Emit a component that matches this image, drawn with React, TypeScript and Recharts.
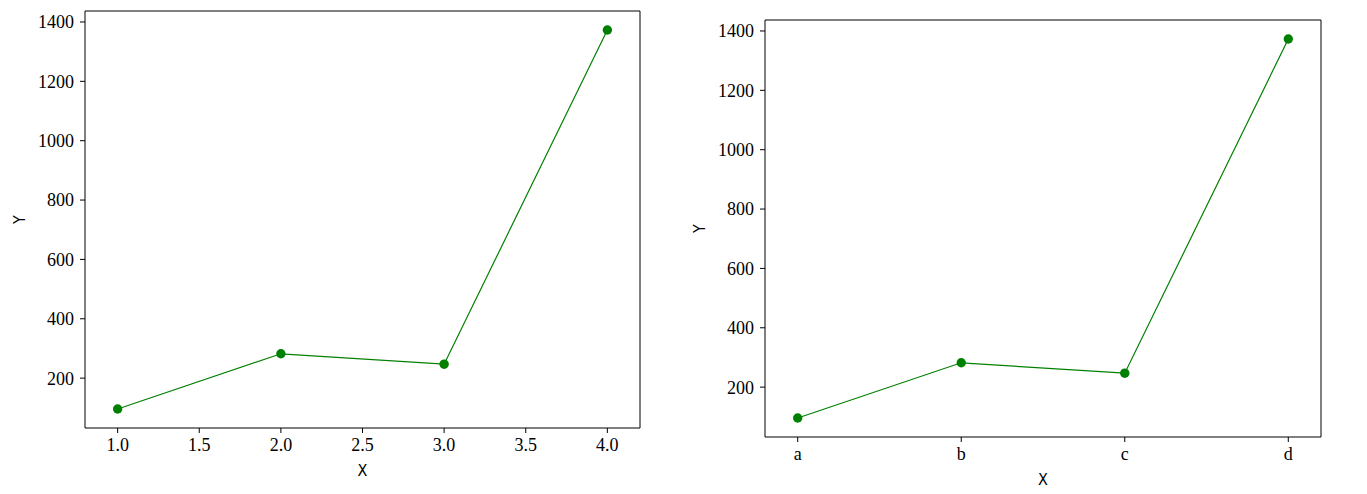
import React from 'react';
import { LineChart, Line, XAxis, YAxis, ReferenceArea } from 'recharts';

const xNumeric = [1, 2, 3, 4];
const categories = ['a', 'b', 'c', 'd'];
const yValues = [96, 282, 247, 1373];
const xTicksLeft = [1.0, 1.5, 2.0, 2.5, 3.0, 3.5, 4.0];
const yTicks = [200, 400, 600, 800, 1000, 1200, 1400];

const leftData = xNumeric.map((x, i) => ({ x, y: yValues[i] }));
const rightData = categories.map((c, i) => ({ x: i + 1, cat: c, y: yValues[i] }));

const X_DOMAIN: [number, number] = [0.8, 4.2];
const Y_DOMAIN: [number, number] = [32, 1437];

const serif = "'Liberation Serif', 'Times New Roman', serif";
const labelFont = "'DejaVu Sans Condensed', 'Liberation Sans Narrow', 'DejaVu Sans', sans-serif";
const GREEN = '#008000';

const tickStyle = { fontFamily: serif, fontSize: 18, fill: '#000' };
const labelStyle = { fontFamily: labelFont, fontSize: 16, fill: '#000', fontStretch: 'condensed', textAnchor: 'middle' } as any;

function Panel(props: {
  data: any[];
  ticks: number[];
  fmt: (v: number) => string;
  width: number;
  margin: { top: number; right: number; bottom: number; left: number };
}) {
  const { data, ticks, fmt, width, margin } = props;
  return (
    <LineChart width={width} height={494} data={data} margin={margin}>
      <XAxis
        dataKey="x"
        type="number"
        domain={X_DOMAIN}
        ticks={ticks}
        tickFormatter={fmt}
        allowDataOverflow
        axisLine={false}
        tickLine={{ stroke: '#000' }}
        tickSize={5}
        tickMargin={5}
        tick={tickStyle}
        height={50}
        interval={0}
        label={{ value: 'X', position: 'insideBottom', offset: 2, style: labelStyle }}
      />
      <YAxis
        dataKey="y"
        type="number"
        domain={Y_DOMAIN}
        ticks={yTicks}
        allowDataOverflow
        axisLine={false}
        tickLine={{ stroke: '#000' }}
        tickSize={5}
        tickMargin={6}
        tick={tickStyle}
        width={75}
        interval={0}
        label={{ value: 'Y', angle: -90, position: 'insideLeft', offset: 9, style: labelStyle }}
      />
      <ReferenceArea
        x1={X_DOMAIN[0]}
        x2={X_DOMAIN[1]}
        y1={Y_DOMAIN[0]}
        y2={Y_DOMAIN[1]}
        fill="none"
        fillOpacity={0}
        stroke="#000"
        strokeWidth={1}
        strokeOpacity={1}
      />
      <Line
        dataKey="y"
        stroke={GREEN}
        strokeWidth={1.2}
        dot={{ r: 4.7, fill: GREEN, stroke: 'none' }}
        activeDot={false}
        isAnimationActive={false}
      />
    </LineChart>
  );
}

export default function App() {
  return (
    <div style={{ position: 'absolute', left: 0, top: 0, width: 1367, height: 494, background: '#fff' }}>
      <div style={{ position: 'absolute', left: 0, top: 0 }}>
        <Panel
          data={leftData}
          ticks={xTicksLeft}
          fmt={(v) => v.toFixed(1)}
          width={660}
          margin={{ top: 11, right: 20, bottom: 16, left: 10 }}
        />
      </div>
      <div style={{ position: 'absolute', left: 680, top: 0 }}>
        <Panel
          data={rightData}
          ticks={xNumeric}
          fmt={(v) => categories[Math.round(v) - 1] ?? ''}
          width={687}
          margin={{ top: 20, right: 46, bottom: 7, left: 10 }}
        />
      </div>
    </div>
  );
}
